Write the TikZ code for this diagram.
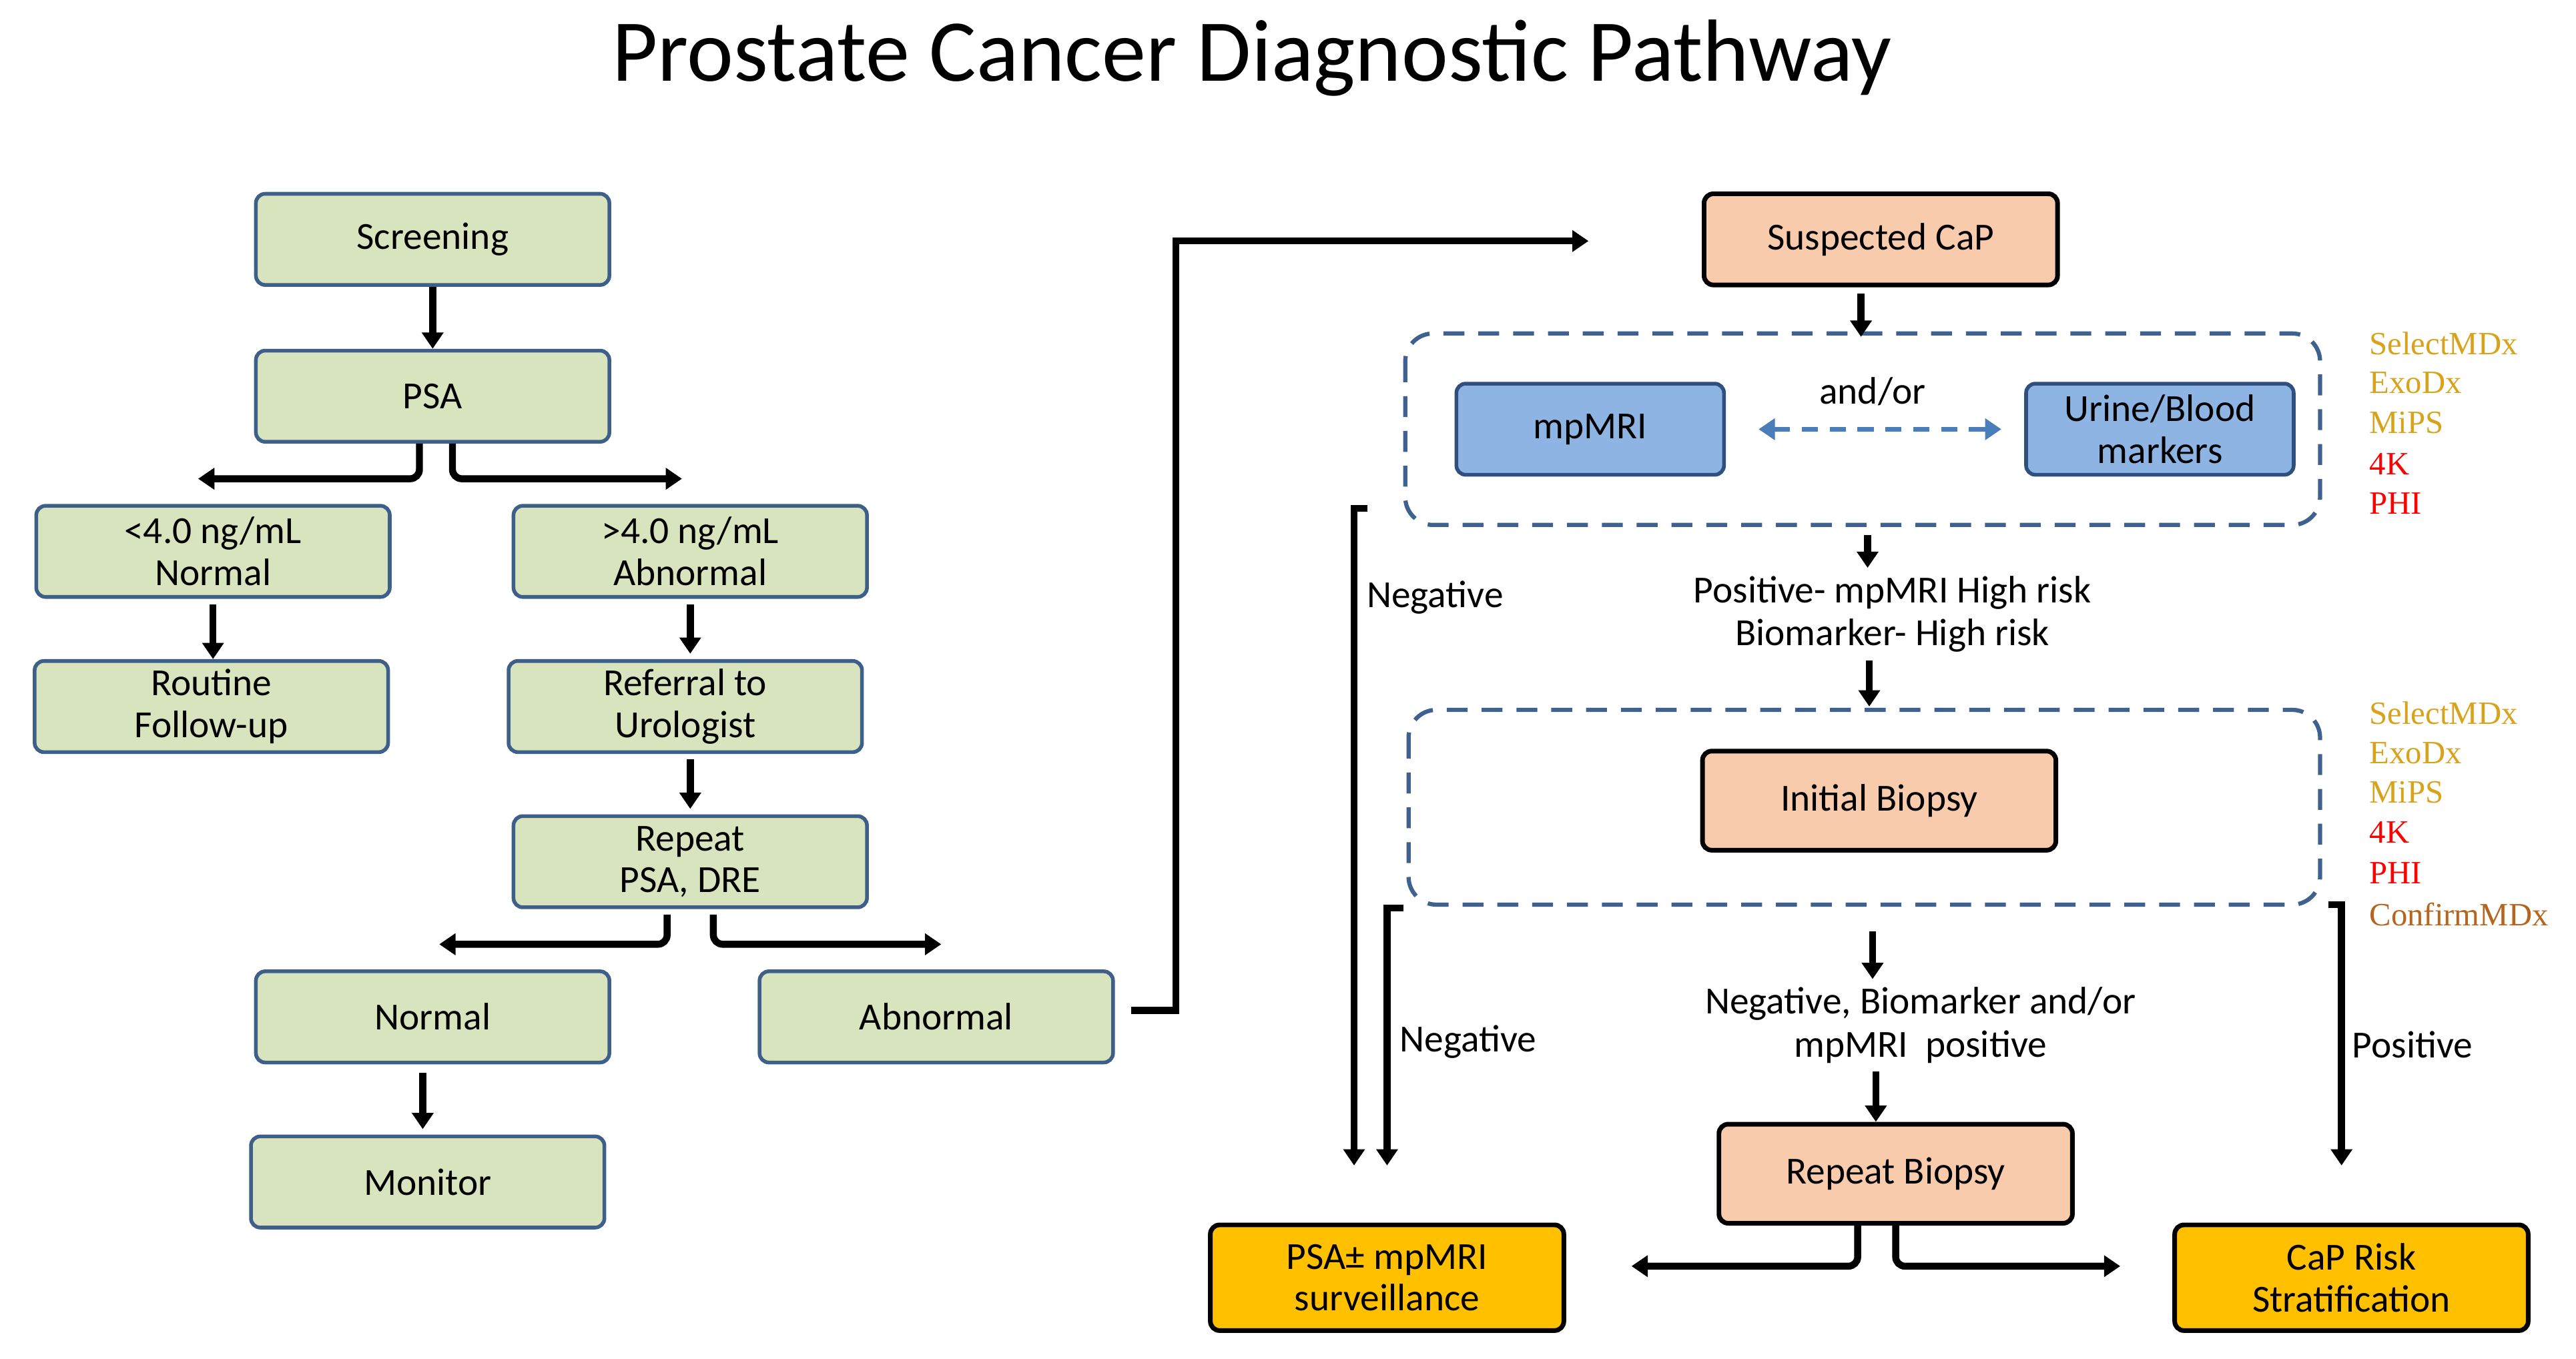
\documentclass[tikz,border=0pt]{standalone}
\usepackage{fontspec}
\setmainfont{Carlito}
\newfontfamily\listfont{Liberation Serif}
\usetikzlibrary{arrows.meta,calc}
\definecolor{greenfill}{HTML}{D7E4BD}
\definecolor{greenedge}{HTML}{3E5F8A}
\definecolor{peach}{HTML}{F9CBAD}
\definecolor{bluefill}{HTML}{8EB4E3}
\definecolor{blueedge}{HTML}{2F4F7F}
\definecolor{amber}{HTML}{FFC000}
\definecolor{dashblue}{HTML}{3F618F}
\definecolor{arrowblue}{HTML}{4A7EBB}
\definecolor{goldtxt}{HTML}{D9A21B}
\definecolor{browntxt}{HTML}{B5651D}
\tikzset{
  box/.style={draw=greenedge, fill=greenfill, line width=1.6pt, rounded corners=4pt,
    minimum width=5.35cm, minimum height=1.38cm, align=center,
    font=\fontsize{16.5}{18}\selectfont},
  biopsy/.style={box, draw=black, fill=peach, line width=2pt},
  test/.style={box, draw=blueedge, fill=bluefill, minimum width=4.05cm},
  result/.style={box, draw=black, fill=amber, line width=2pt, minimum height=1.6cm},
  flow/.style={line width=3pt, -{Triangle[length=7pt,width=9pt]}},
  elbow/.style={flow, rounded corners=4pt},
  lbl/.style={font=\fontsize{16.5}{18.5}\selectfont, align=center},
  marker/.style={font=\listfont\fontsize{14}{16}\selectfont, anchor=west}
}
\begin{document}
\begin{tikzpicture}[x=0.025cm, y=-0.025cm]
  \useasboundingbox (0,0) rectangle (1560,823);
  \node[font=\fontsize{38}{44}\selectfont] (title) at (758,35) {Prostate Cancer Diagnostic Pathway};

  % left column
  \node[box] (screen) at (262,145) {Screening};
  \node[box] (psa) at (262,240) {PSA};
  \node[box] (low) at (129,334) {<4.0 ng/mL\\Normal};
  \node[box] (high) at (418,334) {>4.0 ng/mL\\Abnormal};
  \node[box] (routine) at (128,428) {Routine\\Follow-up};
  \node[box] (referral) at (415,428) {Referral to\\Urologist};
  \node[box] (repeat) at (418,522) {Repeat\\PSA, DRE};
  \node[box] (normal) at (262,616) {Normal};
  \node[box] (abnormal) at (567,616) {Abnormal};
  \node[box] (monitor) at (259,716) {Monitor};

  \draw[flow] (screen.south) -- (psa.north);
  \draw[elbow] ($(psa.south)+(-8,0)$) |- (120,290);
  \draw[elbow] ($(psa.south)+(12,0)$) |- (413,290);
  \draw[flow] (129,366) -- (routine.north -| 129,0);
  \draw[flow] (418,366) -- (418,396);
  \draw[flow] (418,460) -- (418,490);
  \draw[elbow] (404,554) |- (266,572);
  \draw[elbow] (432,554) |- (570,572);
  \draw[flow] (256,650) -- (256,684);

  % right part
  \node[biopsy] (suspect) at (1139,145) {Suspected CaP};
  \node[test] (mri) at (963,260) {mpMRI};
  \node[test] (urine) at (1308,260) {Urine/Blood\\markers};
  \node[biopsy, minimum height=1.5cm] (initial) at (1138,485) {Initial Biopsy};
  \node[biopsy, minimum height=1.5cm] (rebiopsy) at (1148,711) {Repeat Biopsy};
  \node[result] (surv) at (840,774) {PSA± mpMRI\\surveillance};
  \node[result] (risk) at (1424,774) {CaP Risk\\Stratification};

  \draw[dashblue, line width=1.8pt, dash pattern=on 9pt off 6pt, rounded corners=12pt]
    (851,202) rectangle (1405,318);
  \draw[dashblue, line width=1.8pt, dash pattern=on 9pt off 6pt, rounded corners=12pt]
    (853,430) rectangle (1405,548);

  \node[lbl] (andor) at (1134,237) {and/or};
  \draw[arrowblue, line width=2pt, dash pattern=on 7pt off 5pt,
    {Triangle[length=7pt,width=9pt]}-{Triangle[length=7pt,width=9pt]}] (1065,260) -- (1212,260);

  \coordinate (jump) at (685,612);
  \draw[flow] (jump) -| (712,146) -- (962,146);
  \draw[flow] (suspect.south) ++(-12,4) -- ++(0,26);

  \node[lbl] (pos1) at (1146,372) {Positive- mpMRI High risk\\Biomarker- High risk};
  \draw[flow] (1131,324) -- (pos1.north -| 1131,0);
  \draw[flow] (pos1.south -| 1132,0) -- (1132,428);

  \node[lbl] (neg1) at (869,362) {Negative};
  \draw[flow] (828,308) -| (820,706);
  \node[lbl] (neg2) at (889,631) {Negative};
  \draw[flow] (850,550) -| (840,706);
  \node[lbl] (pos2) at (1461,633) {Positive};
  \draw[flow] (1410,548) -| (1418,706);

  \node[lbl] (negbio) at (1163,621) {Negative, Biomarker and/or\\mpMRI\ \ positive};
  \draw[flow] (1134,564) -- (negbio.north -| 1134,0);
  \draw[flow] (negbio.south -| 1136,0) -- (rebiopsy.north -| 1136,0);
  \draw[elbow] ($(rebiopsy.south)+(-23,0)$) |- (988,767);
  \draw[elbow] ($(rebiopsy.south)+(0,0)$) |- (1284,767);

  % marker lists
  \node[marker, text=goldtxt] (sel1) at (1430,208) {SelectMDx};
  \node[marker, text=goldtxt] (exo1) at (1430,232) {ExoDx};
  \node[marker, text=goldtxt] (mips1) at (1430,256) {MiPS};
  \node[marker, text=red] (fk1) at (1430,281) {4K};
  \node[marker, text=red] (phi1) at (1430,305) {PHI};
  \node[marker, text=goldtxt] (sel2) at (1430,432) {SelectMDx};
  \node[marker, text=goldtxt] (exo2) at (1430,456) {ExoDx};
  \node[marker, text=goldtxt] (mips2) at (1430,480) {MiPS};
  \node[marker, text=red] (fk2) at (1430,504) {4K};
  \node[marker, text=red] (phi2) at (1430,529) {PHI};
  \node[marker, text=browntxt] (conf2) at (1430,554) {ConfirmMDx};
\end{tikzpicture}
\end{document}
